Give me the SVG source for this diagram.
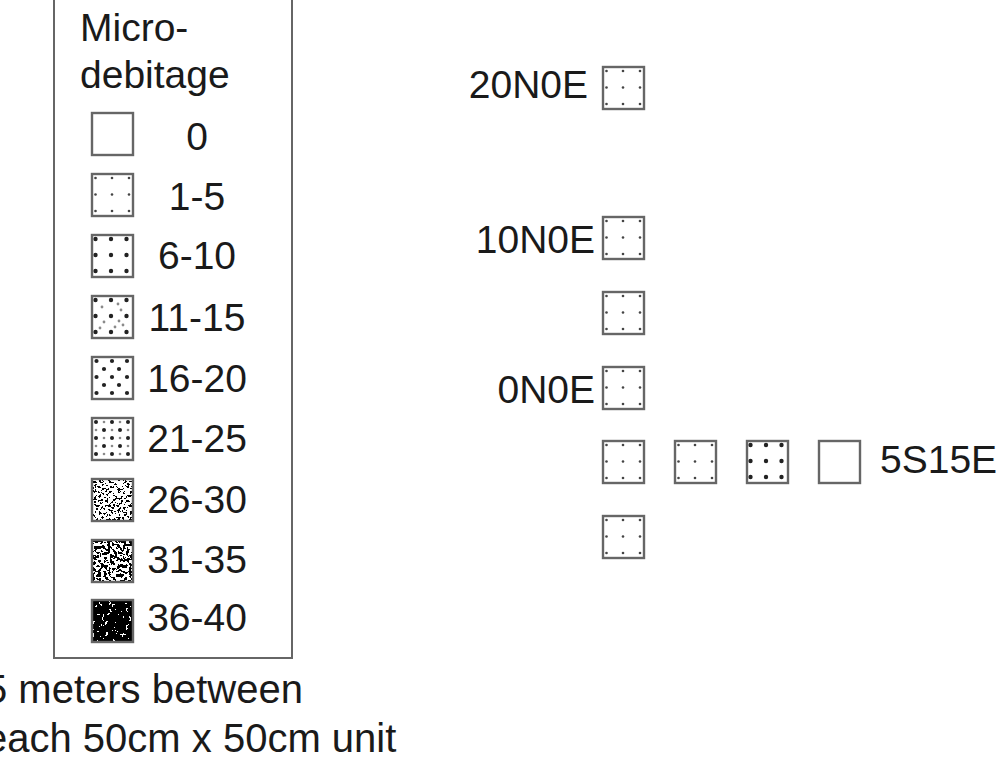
<svg xmlns="http://www.w3.org/2000/svg" xmlns:xlink="http://www.w3.org/1999/xlink" width="1000" height="765" viewBox="0 0 1000 765">
<style>
  text { font-family: "Liberation Sans", Arial, sans-serif; fill: #1a1a1a; }
  .lbl { font-size: 39px; }
  .leg { font-size: 39px; text-anchor: middle; }
  .note { font-size: 40px; }
  .sq { fill: none; stroke: #666; stroke-width: 2.4; }
  .box { fill: none; stroke: #666; stroke-width: 2; }
  .bd { fill: #222; }
  .sd { fill: #444; }
  .gd { fill: #8a8a8a; }
</style>
<defs>
  <filter id="nz1" x="0" y="0" width="1" height="1" color-interpolation-filters="sRGB">
    <feTurbulence type="fractalNoise" baseFrequency="0.42" numOctaves="2" seed="11"/>
    <feColorMatrix type="matrix" values="0 0 0 0 0  0 0 0 0 0  0 0 0 0 0  1.6 0 0 0 -0.42"/>
    <feComponentTransfer><feFuncA type="discrete" tableValues="0 1"/></feComponentTransfer>
    <feComposite operator="in" in2="SourceGraphic"/>
  </filter>
  <filter id="nz2" x="0" y="0" width="1" height="1" color-interpolation-filters="sRGB">
    <feTurbulence type="fractalNoise" baseFrequency="0.32" numOctaves="2" seed="5"/>
    <feColorMatrix type="matrix" values="0 0 0 0 0  0 0 0 0 0  0 0 0 0 0  1.6 0 0 0 -0.32"/>
    <feComponentTransfer><feFuncA type="discrete" tableValues="0 1"/></feComponentTransfer>
    <feComposite operator="in" in2="SourceGraphic"/>
  </filter>
  <filter id="nz3" x="0" y="0" width="1" height="1" color-interpolation-filters="sRGB">
    <feTurbulence type="fractalNoise" baseFrequency="0.3" numOctaves="2" seed="21"/>
    <feColorMatrix type="matrix" values="0 0 0 0 0  0 0 0 0 0  0 0 0 0 0  1.6 0 0 0 -0.04"/>
    <feComponentTransfer><feFuncA type="discrete" tableValues="0 1"/></feComponentTransfer>
    <feComposite operator="in" in2="SourceGraphic"/>
  </filter>
  <!-- fills in local coordinates (41 x 42) -->
  <g id="f1">
    <circle class="sd" cx="3.5" cy="4" r="1.3"/><circle class="sd" cx="20" cy="4" r="1.3"/><circle class="sd" cx="37" cy="4" r="1.3"/>
    <circle class="sd" cx="3.5" cy="20.5" r="1.3"/><circle class="sd" cx="20" cy="20.5" r="1.3"/><circle class="sd" cx="37" cy="20.5" r="1.3"/>
    <circle class="sd" cx="3.5" cy="37" r="1.3"/><circle class="sd" cx="20" cy="37" r="1.3"/><circle class="sd" cx="37" cy="37" r="1.3"/>
  </g>
  <g id="f2">
    <circle class="bd" cx="3.5" cy="4" r="2.2"/><circle class="bd" cx="19" cy="4" r="2.2"/><circle class="bd" cx="34.5" cy="4" r="2.2"/>
    <circle class="bd" cx="3.5" cy="20" r="2.2"/><circle class="bd" cx="19" cy="20" r="2.2"/><circle class="bd" cx="34.5" cy="20" r="2.2"/>
    <circle class="bd" cx="3.5" cy="36" r="2.2"/><circle class="bd" cx="19" cy="36" r="2.2"/><circle class="bd" cx="34.5" cy="36" r="2.2"/>
  </g>
  <g id="f3">
    <use xlink:href="#f2"/>
    <circle class="gd" cx="10" cy="11" r="1.4"/><circle class="gd" cx="26" cy="8" r="1.4"/><circle class="gd" cx="29" cy="14" r="1.4"/>
    <circle class="gd" cx="12" cy="26" r="1.4"/><circle class="gd" cx="27" cy="25" r="1.4"/><circle class="gd" cx="8" cy="32" r="1.4"/>
    <circle class="gd" cx="23" cy="31" r="1.4"/><circle class="gd" cx="31" cy="29" r="1.4"/>
  </g>
  <g id="f4">
    <circle class="bd" cx="4.5" cy="4" r="2.1"/><circle class="bd" cx="20" cy="4" r="2.1"/><circle class="bd" cx="35" cy="4" r="2.1"/>
    <circle class="bd" cx="12" cy="12" r="2.1"/><circle class="bd" cx="27" cy="12" r="2.1"/>
    <circle class="bd" cx="4.5" cy="20" r="2.1"/><circle class="bd" cx="20" cy="20" r="2.1"/><circle class="bd" cx="35" cy="20" r="2.1"/>
    <circle class="bd" cx="12" cy="28" r="2.1"/><circle class="bd" cx="27" cy="28" r="2.1"/>
    <circle class="bd" cx="4.5" cy="36" r="2.1"/><circle class="bd" cx="20" cy="36" r="2.1"/><circle class="bd" cx="35" cy="36" r="2.1"/>
  </g>
  <g id="f5">
    <circle class="bd" cx="4" cy="4" r="2"/><circle class="gd" cx="12" cy="4" r="1.3"/><circle class="bd" cx="20" cy="4" r="2"/><circle class="gd" cx="28" cy="4" r="1.3"/><circle class="bd" cx="36" cy="4" r="2"/>
    <circle class="gd" cx="4" cy="12" r="1.3"/><circle class="bd" cx="12" cy="12" r="2"/><circle class="gd" cx="20" cy="12" r="1.3"/><circle class="bd" cx="28" cy="12" r="2"/><circle class="gd" cx="36" cy="12" r="1.3"/>
    <circle class="bd" cx="4" cy="20" r="2"/><circle class="gd" cx="12" cy="20" r="1.3"/><circle class="bd" cx="20" cy="20" r="2"/><circle class="gd" cx="28" cy="20" r="1.3"/><circle class="bd" cx="36" cy="20" r="2"/>
    <circle class="gd" cx="4" cy="28" r="1.3"/><circle class="bd" cx="12" cy="28" r="2"/><circle class="gd" cx="20" cy="28" r="1.3"/><circle class="bd" cx="28" cy="28" r="2"/><circle class="gd" cx="36" cy="28" r="1.3"/>
    <circle class="bd" cx="4" cy="36" r="2"/><circle class="gd" cx="12" cy="36" r="1.3"/><circle class="bd" cx="20" cy="36" r="2"/><circle class="gd" cx="28" cy="36" r="1.3"/><circle class="bd" cx="36" cy="36" r="2"/>
  </g>
  <rect id="f6" x="1" y="1" width="39" height="40" fill="#333" filter="url(#nz1)"/>
  <rect id="f7" x="1" y="1" width="39" height="40" fill="#222" filter="url(#nz2)"/>
  <rect id="f8" x="1" y="1" width="39" height="40" fill="#111" filter="url(#nz3)"/>
</defs>

<rect x="0" y="0" width="1000" height="765" fill="#fff"/>

<g id="legend">
  <rect class="box" x="54" y="-10" width="238" height="668"/>
  <text class="lbl" x="80" y="41">Micro-</text>
  <text class="lbl" x="80" y="88">debitage</text>
  <g id="leg-0"><rect class="sq" x="92" y="113" width="41" height="42"/><text class="leg" x="197" y="150">0</text></g>
  <g id="leg-1-5"><use xlink:href="#f1" x="92" y="174"/><rect class="sq" x="92" y="174" width="41" height="42"/><text class="leg" x="197" y="210">1-5</text></g>
  <g id="leg-6-10"><use xlink:href="#f2" x="92" y="235"/><rect class="sq" x="92" y="235" width="41" height="42"/><text class="leg" x="197" y="269">6-10</text></g>
  <g id="leg-11-15"><use xlink:href="#f3" x="92" y="296"/><rect class="sq" x="92" y="296" width="41" height="42"/><text class="leg" x="197" y="331">11-15</text></g>
  <g id="leg-16-20"><use xlink:href="#f4" x="92" y="357"/><rect class="sq" x="92" y="357" width="41" height="42"/><text class="leg" x="197" y="392">16-20</text></g>
  <g id="leg-21-25"><use xlink:href="#f5" x="92" y="418"/><rect class="sq" x="92" y="418" width="41" height="42"/><text class="leg" x="197" y="452">21-25</text></g>
  <g id="leg-26-30"><use xlink:href="#f6" x="92" y="479"/><rect class="sq" x="92" y="479" width="41" height="42"/><text class="leg" x="197" y="513">26-30</text></g>
  <g id="leg-31-35"><use xlink:href="#f7" x="92" y="540"/><rect class="sq" x="92" y="540" width="41" height="42"/><text class="leg" x="197" y="573">31-35</text></g>
  <g id="leg-36-40"><use xlink:href="#f8" x="92" y="600"/><rect class="sq" x="92" y="600" width="41" height="42"/><text class="leg" x="197" y="631">36-40</text></g>
</g>

<g id="note">
  <text class="note" x="-15" y="703">5 meters between</text>
  <text class="note" x="-15" y="752">each 50cm x 50cm unit</text>
</g>

<g id="connectors"/>

<g id="unit-20N0E"><use xlink:href="#f1" x="603" y="67"/><rect class="sq" x="603" y="67" width="41" height="42"/><text class="lbl" x="588" y="98" text-anchor="end">20N0E</text></g>
<g id="unit-10N0E"><use xlink:href="#f1" x="603" y="217"/><rect class="sq" x="603" y="217" width="41" height="42"/><text class="lbl" x="595" y="253" text-anchor="end">10N0E</text></g>
<g id="unit-5N0E"><use xlink:href="#f1" x="603" y="292"/><rect class="sq" x="603" y="292" width="41" height="42"/></g>
<g id="unit-0N0E"><use xlink:href="#f1" x="603" y="367"/><rect class="sq" x="603" y="367" width="41" height="42"/><text class="lbl" x="595" y="403" text-anchor="end">0N0E</text></g>
<g id="unit-5S0E"><use xlink:href="#f1" x="603" y="441"/><rect class="sq" x="603" y="441" width="41" height="42"/></g>
<g id="unit-5S5E"><use xlink:href="#f1" x="675" y="441"/><rect class="sq" x="675" y="441" width="41" height="42"/></g>
<g id="unit-5S10E"><use xlink:href="#f2" x="747" y="441"/><rect class="sq" x="747" y="441" width="41" height="42"/></g>
<g id="unit-5S15E"><rect class="sq" x="819" y="441" width="41" height="42"/><text class="lbl" x="880" y="473">5S15E</text></g>
<g id="unit-10S0E"><use xlink:href="#f1" x="603" y="516"/><rect class="sq" x="603" y="516" width="41" height="42"/></g>
</svg>
